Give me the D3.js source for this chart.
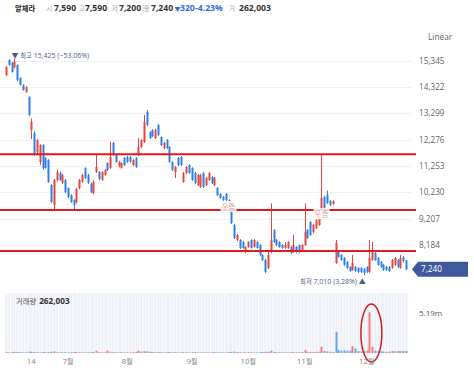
<!DOCTYPE html>
<html><head><meta charset="utf-8">
<script src="https://cdn.jsdelivr.net/npm/d3@7"></script>
<style>
html,body{margin:0;padding:0;background:#fff;}
svg{display:block;font-family:"Open Sans","Noto Sans CJK KR",sans-serif;}
</style></head>
<body><svg id="c" width="474" height="375"></svg>
<script>
// ---- data ----
const opens  = [14789,15372,15256,15100,15178,14673,14401,14129,13934,12652,12535,11797,11409,12069,11564,11487,10515,9739,10709,10980,10600,10709,10399,10127,9933,9855,10399,10632,11176,10904,10560,10205,11020,11020,10709,10904,11370,11176,12148,11681,11253,11176,11564,11603,11600,11292,11564,11681,11991,12186,13351,12574,12650,12341,12846,12380,11950,12263,11991,11409,11020,11564,11603,10632,10980,11292,11176,10980,10515,10440,10980,10515,10709,10826,10515,10399,10166,10050,10166,9933,9622,8962,8379,8379,8302,7913,8107,8379,8107,8302,8185,7797,7602,7292,7913,8768,8379,8302,8185,8068,8068,8107,7913,8107,8185,7952,8185,8768,9078,8690,8845,8962,9544,10050,10127,9890,9780,7486,7913,7797,7680,7525,7331,7214,7331,7292,7292,7253,7331,7137,7602,7874,7680,7525,7408,7331,7331,7292,7408,7602,7292,7700,7590];
const highs  = [15150,15400,15300,15425,15200,14700,14420,14350,13960,13100,12600,12300,12100,12100,11600,11520,10550,10750,11100,11050,10950,10750,10420,10150,9960,10400,10750,10950,11200,10950,10600,10700,11681,11060,11050,11140,11400,12200,12200,11720,11440,11400,11600,11650,11640,11520,11600,12341,12300,13235,13429,12600,12690,12700,12880,12400,12190,12300,12020,11440,11250,11600,11640,11020,11250,11320,11200,11020,10950,10950,11020,10820,11020,10860,10820,10430,10200,10080,10200,9960,9660,9000,8610,8410,8330,8140,8330,8410,8410,8330,8220,7830,7640,7913,9800,8800,8410,8330,8210,8302,8330,8140,8573,8140,8210,8210,9800,8800,9110,9000,9190,9310,11681,10090,10300,9930,9920,8379,7950,7830,7710,7560,7360,7797,7360,7320,7320,7290,7360,8379,8302,7910,7710,7560,7440,7360,7360,7640,7719,7640,7797,7760,7590];
const lows   = [14750,15150,14880,15050,14550,14380,14180,14100,13200,12300,11650,11700,11300,11100,11150,10600,9820,9544,10650,10680,10550,10200,10000,9820,9544,9800,10350,10600,10750,10550,10200,10150,10980,10700,10680,10880,11060,11150,11650,11380,11200,11150,11250,11380,11390,11250,11180,11640,11950,12150,12800,12300,12380,12300,12420,12030,11900,11920,11380,11060,10787,11250,11260,10600,10950,10950,10680,10560,10480,10400,10400,10480,10680,10560,10480,10090,9980,9900,9900,9580,9000,8420,8340,8030,8040,7874,8080,8040,8080,8040,7760,7570,7100,7250,7870,8270,8150,8080,8040,8040,8040,7840,7880,7880,7880,7920,8150,8420,8540,8650,8810,8930,9500,9590,9780,9700,9750,7450,7690,7570,7380,7260,7140,7180,7140,7100,7100,7010,7100,7100,7570,7570,7380,7300,7180,7180,7140,7260,7380,7300,7260,7500,7200];
const closes = [15100,15178,14906,15300,14595,14401,14206,14320,13235,12963,11681,12263,12069,11176,11176,10632,9855,10709,11020,10709,10900,10244,10050,9855,9739,10360,10709,10904,10787,10593,10244,10632,11215,10750,11020,11098,11098,11603,11681,11409,11409,11370,11292,11409,11420,11487,11215,11991,12263,12963,12846,12341,12420,12652,12458,12069,12150,11950,11409,11098,11215,11292,11292,10980,11215,10980,10709,10593,10904,10904,10440,10787,10980,10593,10787,10127,10011,9933,9933,9622,9040,8457,8573,8068,8068,8107,8302,8068,8379,8068,7797,7602,7137,7797,8379,8302,8185,8107,8068,8185,8302,7874,8185,7913,7913,8185,8690,8457,8573,8962,9156,9273,10011,9622,9816,9739,9890,8263,7719,7602,7408,7292,7175,7486,7175,7137,7137,7100,7137,7680,7913,7602,7408,7331,7214,7214,7175,7602,7680,7331,7680,7560,7240];
const volumes = [120,90,110,150,130,100,80,90,180,160,140,110,90,120,100,130,150,200,120,90,80,100,90,110,130,120,90,80,100,90,110,130,290,100,90,80,290,140,120,90,80,90,70,80,90,100,150,290,180,220,200,150,120,100,110,90,80,100,120,90,110,90,80,100,90,80,90,100,80,90,80,90,70,80,100,110,90,80,100,120,150,180,130,100,90,80,100,90,80,90,110,130,150,160,300,120,100,90,80,90,90,110,100,90,100,110,380,150,130,120,140,160,800,250,200,150,120,2700,380,300,350,280,300,880,590,250,200,220,300,5190,800,300,220,200,180,150,170,260,230,250,240,280,262.003];
const yTicks = [8184,9207,10230,11253,12276,13299,14322,15345];
const xTickIdx = [9,22,43,66,86,106,128];
const xTickLabels = ["14","7월","8월","9월","10월","11월","12월"];
const levels = [11708,9543,7950];
const notes = [{i:79,p:9660,t:"우증"},{i:112,p:9380,t:"우증"}];
const headerName = "알체라";
const headerItems = [["시","7,590"],["고","7,590"],["저","7,200"],["종","7,240"]];
const headerChange = ["320","-4.23%"];
const headerVolume = ["거","262,003"];

const UP="#e8453c", DN="#2f7fe6";
const svg=d3.select("#c");
const n=closes.length;
const idx=d3.range(n);
const x=d3.scalePoint().domain(idx).range([6,406]);
const y=d3.scaleLinear().domain([8184,15345]).range([245,60.7]);
const vy=d3.scaleLinear().domain([0,5190]).range([353,312.3]);
const fmt=d3.format(",");

// write text with Hangul runs at a smaller size (narrower glyphs like the source font)
function rich(t,str,numSize,hanSize){
  const runs=str.match(/[\uAC00-\uD7A3]+|[^\uAC00-\uD7A3]+/g)||[];
  runs.forEach(r=>{
    t.append("tspan").attr("font-size",/[\uAC00-\uD7A3]/.test(r)?hanSize:numSize).text(r);
  });
  return t;
}

// header
const H=svg.append("g");
H.append("text").attr("x",15).attr("y",11).attr("font-weight","bold").attr("fill","#222").attr("font-size",7.3).text(headerName);
const hx=[[46,54],[78.5,85],[111.5,119],[143.5,151]];
headerItems.forEach((p,k)=>{
  H.append("text").attr("x",hx[k][0]).attr("y",11).attr("fill","#aaa").attr("font-size",6.8).text(p[0]);
  H.append("text").attr("x",hx[k][1]).attr("y",11).attr("fill","#333").attr("font-weight","bold").attr("font-size",8.6).text(p[1]);
});
H.append("text").attr("x",174.5).attr("y",11).attr("fill","#2a6fdb").attr("font-size",6).text("▼");
H.append("text").attr("x",180).attr("y",11).attr("fill","#2a6fdb").attr("font-weight","bold").attr("font-size",8.6).text(headerChange[0]);
H.append("text").attr("x",195).attr("y",11).attr("fill","#2a6fdb").attr("font-weight","bold").attr("font-size",8.6).text(headerChange[1]);
H.append("text").attr("x",229).attr("y",11).attr("fill","#aaa").attr("font-size",6.8).text(headerVolume[0]);
H.append("text").attr("x",239).attr("y",11).attr("fill","#333").attr("font-weight","bold").attr("font-size",8.6).text(headerVolume[1]);

svg.append("text").attr("x",428).attr("y",40).attr("font-size",8.3).attr("fill","#666").text("Linear");

// grid + y labels
svg.append("g").selectAll("line").data(yTicks).join("line")
  .attr("x1",0).attr("x2",412).attr("y1",d=>Math.round(y(d))+0.5).attr("y2",d=>Math.round(y(d))+0.5)
  .attr("stroke","#f1f1f3");
svg.append("g").selectAll("text").data(yTicks).join("text")
  .attr("x",419).attr("y",d=>y(d)+3).attr("font-size",8.2).attr("fill","#666")
  .text(fmt);

// candles
const cg=svg.append("g");
idx.forEach(i=>{
  const c=closes[i]>=opens[i]?UP:DN;
  const cx=Math.round(x(i));
  cg.append("line").attr("x1",cx+0.5).attr("x2",cx+0.5).attr("y1",y(highs[i])).attr("y2",y(lows[i])).attr("stroke",c).attr("stroke-width",1);
  const t=y(Math.max(opens[i],closes[i])), b=y(Math.min(opens[i],closes[i]));
  cg.append("rect").attr("x",cx-0.5).attr("y",t).attr("width",2).attr("height",Math.max(1,b-t)).attr("fill",c);
});

// levels
svg.append("g").selectAll("line").data(levels).join("line")
  .attr("x1",0).attr("x2",416).attr("y1",d=>y(d)).attr("y2",d=>y(d))
  .attr("stroke","#e3191c").attr("stroke-width",2);

// notes
const ng=svg.append("g").selectAll("g").data(notes).join("g");
ng.append("rect").attr("x",d=>x(d.i)-8).attr("y",d=>y(d.p)-6).attr("width",16).attr("height",11).attr("fill","#fff").attr("opacity",0.85);
ng.append("text").attr("x",d=>x(d.i)).attr("y",d=>y(d.p)+3).attr("text-anchor","middle").attr("font-size",7.5).attr("fill","#df9a97").text(d=>d.t);

// hi / lo labels
const hiI=d3.maxIndex(highs), loI=d3.minIndex(lows);
const last=closes[n-1];
rich(svg.append("text").attr("x",x(hiI)-3).attr("y",y(highs[hiI])-1).attr("fill","#4d5f86"),
  `▼ 최고 ${fmt(highs[hiI])} (${d3.format(".2f")((last/highs[hiI]-1)*100)}%)`,7,6.3);
rich(svg.append("text").attr("x",x(loI)+2).attr("y",y(lows[loI])+9).attr("text-anchor","end").attr("fill","#4d5f86"),
  `최저 ${fmt(lows[loI])} (${d3.format(".2f")((last/lows[loI]-1)*100)}%) ▲`,7,6.3);

// price tag
const py=y(last);
svg.append("path").attr("d",`M412,${py} L418,${py-7.5} L468,${py-7.5} L468,${py+7.5} L418,${py+7.5} Z`).attr("fill","#3e5a9c");
svg.append("text").attr("x",421).attr("y",py+3).attr("font-size",8.2).attr("fill","#fff").text(fmt(last));

// volume panel
svg.append("rect").attr("x",5).attr("y",293).attr("width",403).attr("height",60).attr("fill","#f6f8fc");
svg.append("g").selectAll("rect").data(idx).join("rect")
  .attr("x",i=>Math.round(x(i))-0.5).attr("y",293).attr("width",1.5).attr("height",60).attr("fill","#eceff6");
svg.append("g").selectAll("rect").data(idx).join("rect")
  .attr("x",i=>Math.round(x(i))-0.5).attr("y",i=>vy(volumes[i])).attr("width",2)
  .attr("height",i=>Math.max(0.6,353-vy(volumes[i])))
  .attr("fill",i=>(i>0&&closes[i]<closes[i-1])?"#6aa6ee":"#f27e7c");
const vt=svg.append("text").attr("x",16).attr("y",304);
vt.append("tspan").attr("fill","#555").attr("font-size",7.3).text("거래량");
vt.append("tspan").attr("fill","#333").attr("font-weight","bold").attr("font-size",8.2).attr("dx",3).text("262,003");
svg.append("text").attr("x",419).attr("y",316).attr("font-size",8).attr("fill","#555").text("5.19m");

const vmI=d3.maxIndex(volumes);
svg.append("ellipse").attr("cx",x(vmI)+2).attr("cy",333).attr("rx",10.5).attr("ry",29)
  .attr("fill","none").attr("stroke","#d41e1e").attr("stroke-width",1.5);

// x axis labels
svg.append("g").selectAll("text").data(xTickIdx).join("text")
  .attr("x",i=>x(i)).attr("y",364).attr("text-anchor","middle").attr("fill","#888")
  .each(function(d,k){ rich(d3.select(this),xTickLabels[k],8,7); });
</script></body></html>
